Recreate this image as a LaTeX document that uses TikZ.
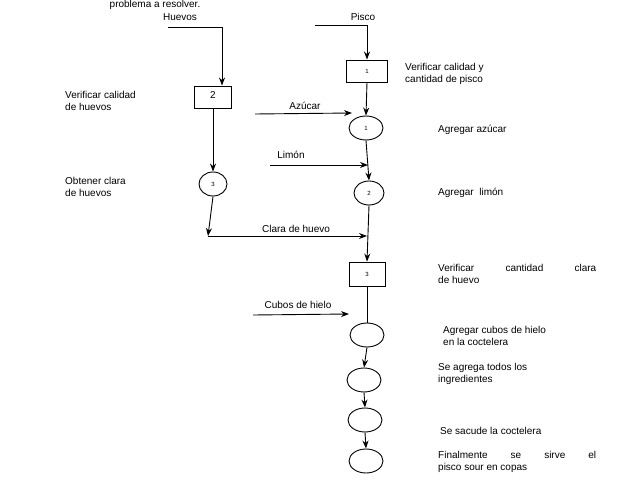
\documentclass[tikz,border=0pt]{standalone}
\usepackage{fontspec}
\setmainfont{Liberation Sans}
\usetikzlibrary{arrows.meta,shapes.geometric}
\begin{document}
\begin{tikzpicture}[x=1pt,y=-1pt,
  every node/.style={font=\fontsize{10}{12}\selectfont},
  box/.style={draw,line width=0.9pt,minimum width=38pt,minimum height=22pt,inner sep=0pt,font=\fontsize{6}{7}\selectfont},
  circ/.style={draw,line width=0.9pt,ellipse,minimum width=32pt,minimum height=24pt,inner sep=0pt,font=\fontsize{6}{7}\selectfont},
  lab/.style={anchor=west,align=left,inner sep=0pt},
  arr/.style={line width=0.9pt,-{Stealth[length=8pt,width=6pt]}},
  ln/.style={line width=0.9pt}]
\useasboundingbox (0,0) rectangle (640,495);
% top texts
\node[inner sep=0pt] (prob) at (155,5) {problema a resolver.};
\node[inner sep=0pt] (huevos) at (180,17) {Huevos};
\node[inner sep=0pt] (pisco) at (363,17) {Pisco};
% boxes
\node[box,minimum width=37pt] (b2) at (213,97) {\raisebox{4pt}{\fontsize{10}{10}\selectfont 2}};
\node[box,minimum width=41pt] (b1) at (367,71) {1};
\node[box,minimum width=36pt,minimum height=24pt] (b3) at (367,274) {3};
% circles
\node[circ,minimum width=34pt] (c1) at (366,128) {1};
\node[circ,minimum width=30pt] (c2) at (369,193) {2};
\node[circ,minimum width=28pt] (c3) at (213,184) {3};
\node[circ,minimum width=34pt] (c4) at (367,335) {};
\node[circ,minimum width=34pt] (c5) at (364,380) {};
\node[circ,minimum width=34pt] (c6) at (365,420) {};
\node[circ,minimum width=34pt] (c7) at (366,461) {};
% input coordinates
\coordinate (hs) at (168,27);
\coordinate (hc) at (222,27);
\coordinate (ps) at (315,25);
\coordinate (pc) at (367,25);
\coordinate (as) at (255,114);
\coordinate (ae) at (352,113);
\coordinate (ls) at (270,165);
\coordinate (le) at (368,165);
\coordinate (cl1) at (208,236);
\coordinate (cl2) at (367,236);
\coordinate (cs) at (253,315);
\coordinate (ce) at (349,314);
% connectors
\draw[arr] (hs) -- (hc) -- (b2.north -| hc);
\draw[arr] (ps) -- (pc) -- (b1.north -| pc);
\draw[arr] (b1.south) -- (c1.north);
\draw[arr] (as) -- (ae);
\draw[arr] (c1.south) -- (c2.north);
\draw[arr] (ls) -- (le);
\draw[arr] (b2.south) -- (c3.north);
\draw[arr] (c3.south) -- (cl1);
\draw[arr] (cl1) -- (cl2);
\draw[arr] (c2.south) -- (b3.north);
\draw[ln] (b3.south) -- (c4.north);
\draw[arr] (cs) -- (ce);
\draw[arr] (c4.south) -- (c5.north);
\draw[arr] (c5.south) -- (c6.north);
\draw[arr] (c6.south) -- (c7.north);
% connector labels
\node[inner sep=0pt] (la) at (305,106) {Azúcar};
\node[inner sep=0pt] (ll) at (291,155) {Limón};
\node[inner sep=0pt] (lc) at (296,229) {Clara de huevo};
\node[inner sep=0pt] (lh) at (298,305) {Cubos de hielo};
% side texts
\node[lab] (t1) at (405,74) {Verificar calidad y\\cantidad de pisco};
\node[lab] (t2) at (65,101) {Verificar calidad\\de huevos};
\node[lab] (t3) at (65,187) {Obtener clara\\de huevos};
\node[lab] (t4) at (438,130) {Agregar azúcar};
\node[lab] (t5) at (438,193) {Agregar\ \ limón};
\node[lab] (t6) at (438,274) {\parbox{158pt}{\baselineskip=12pt Verificar\hfill cantidad\hfill clara\\de huevo}};
\node[lab] (t7) at (443,336) {Agregar cubos de hielo\\en la coctelera};
\node[lab] (t8) at (438,374) {Se agrega todos los\\ingredientes};
\node[lab] (t9) at (440,431) {Se sacude la coctelera};
\node[lab] (t10) at (438,462) {\parbox{158pt}{\baselineskip=12pt Finalmente\hfill se\hfill sirve\hfill el\\pisco sour en copas}};
\end{tikzpicture}
\end{document}
